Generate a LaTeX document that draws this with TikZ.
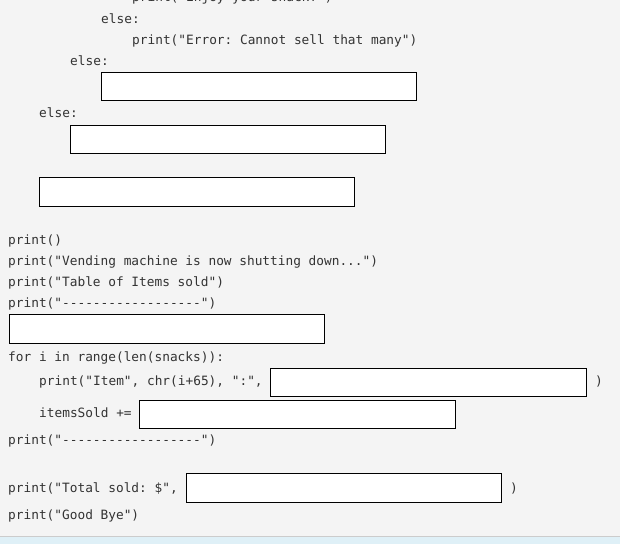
\documentclass[tikz,border=0pt]{standalone}
\usepackage{fontspec}
\setmonofont{DejaVu Sans Mono}
\begin{document}
\begin{tikzpicture}[x=1pt,y=-1pt,
  code/.style={anchor=west,inner sep=0pt,font=\ttfamily\fontsize{12.8}{14}\selectfont,text=black!80,text height=9pt,text depth=2.5pt,yshift=-1pt},
  blank/.style={draw=black,fill=white,line width=0.9pt}]
\definecolor{bg}{HTML}{F4F4F4}
\definecolor{strip}{HTML}{DFF0F7}
\useasboundingbox (0,0) rectangle (620,544);
\fill[bg] (0,0) rectangle (620,544);
\fill[strip] (0,536) rectangle (620,544);
\draw[black!20] (0,536) -- (620,536);
\begin{scope}
\clip (0,0) rectangle (620,544);
\node[code] (t0) at (132,-3) {print("Enjoy your snack!")};
\end{scope}
\node[code] (t1) at (101,19) {else:};
\node[code] (t2) at (132,40) {print("Error: Cannot sell that many")};
\node[code] (t3) at (70,61) {else:};
\node[blank] (b1) at (258.5,86) [minimum width=315,minimum height=28] {};
\node[code] (t4) at (39,113) {else:};
\node[blank] (b2) at (227.5,139) [minimum width=315,minimum height=28] {};
\node[blank] (b3) at (196.5,191.5) [minimum width=315,minimum height=29] {};
\node[code] (t5) at (8,240) {print()};
\node[code] (t6) at (8,261) {print("Vending machine is now shutting down...")};
\node[code] (t7) at (8,282) {print("Table of Items sold")};
\node[code] (t8) at (8,303) {print("------------------")};
\node[blank] (b4) at (166.5,328.5) [minimum width=315,minimum height=29] {};
\node[code] (t9) at (8,357) {for i in range(len(snacks)):};
\node[code] (t10) at (39,381) {print("Item", chr(i+65), ":",};
\node[blank] (b5) at (428,382) [minimum width=316,minimum height=28] {};
\node[code] (t11) at (595,381) {)};
\node[code] (t12) at (39,413) {itemsSold +=};
\node[blank] (b6) at (297,414) [minimum width=316,minimum height=28] {};
\node[code] (t13) at (8,440) {print("------------------")};
\node[code] (t14) at (8,488) {print("Total sold: \$",};
\node[blank] (b7) at (343.5,487.5) [minimum width=315,minimum height=29] {};
\node[code] (t15) at (510,488) {)};
\node[code] (t16) at (8,515) {print("Good Bye")};
\end{tikzpicture}
\end{document}
